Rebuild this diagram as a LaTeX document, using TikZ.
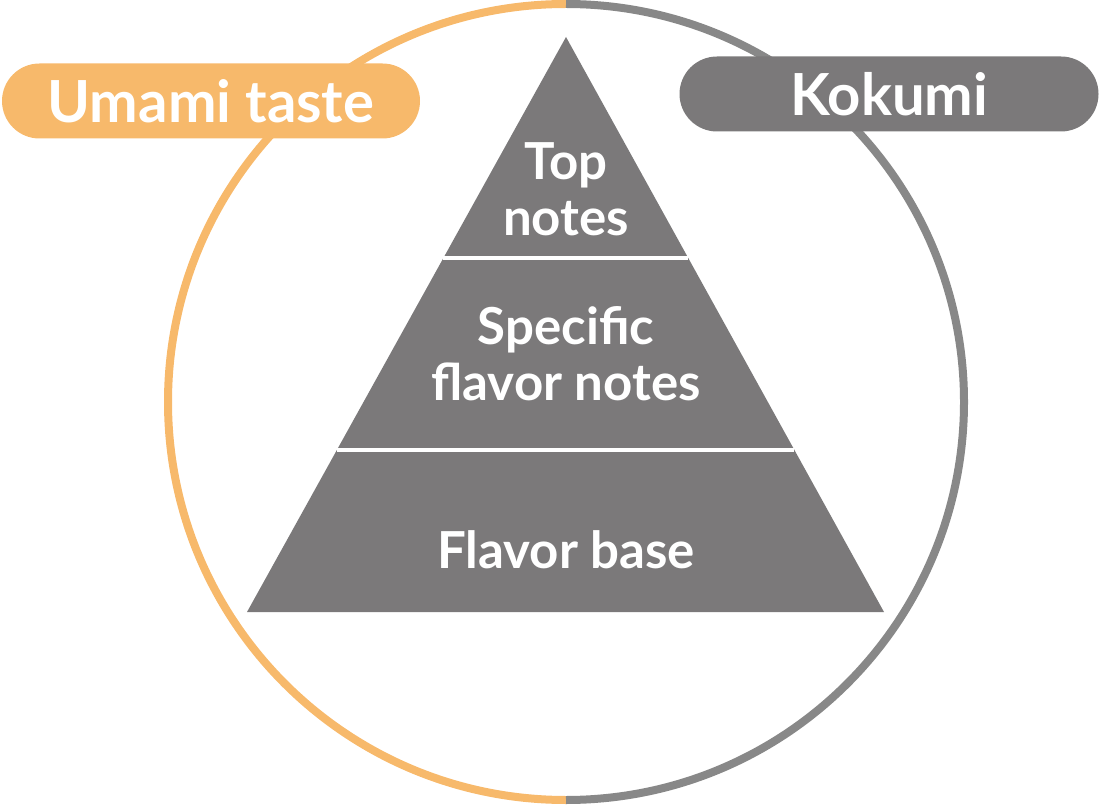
\documentclass[tikz,border=0pt]{standalone}
\usepackage{fontspec}
\setmainfont{Lato}[UprightFont=* Bold]
\usepackage{tikz}
\usetikzlibrary{positioning,calc,shapes.misc}

\definecolor{umami}{HTML}{F7B96B}
\definecolor{ring}{HTML}{888888}
\definecolor{pyr}{HTML}{7B797A}

\begin{document}
\begin{tikzpicture}[x=1pt,y=1pt,
   pill/.style={rounded rectangle,inner sep=0pt,minimum height=75pt,text=white,
                font=\fontsize{58}{64}\selectfont},
   layer/.style={text=white,align=center,font=\fontsize{51}{56}\selectfont}]
   \useasboundingbox (0,0) rectangle (1099,804);
   % outer ring
   \coordinate (c) at (566,402);
   \draw[umami,line width=8pt] (566,800) arc (90:270:398);
   \draw[ring,line width=8pt] (566,800) arc (90:-90:398);
   % pyramid
   \coordinate (apex) at (566,767);
   \coordinate (bl) at (247,192);
   \coordinate (br) at (884,192);
   \fill[pyr] (bl) -- (apex) -- (br) -- cycle;
   \draw[white,line width=4pt] ($(bl)!0.2817!(apex)$) -- ($(br)!0.2817!(apex)$);
   \draw[white,line width=4pt] ($(bl)!0.6157!(apex)$) -- ($(br)!0.6157!(apex)$);
   \node[layer] (top) at (566,615) {Top\\notes};
   \node[layer] (spec) at (566,450) {Specific\\flavor notes};
   \node[layer] (base) at (566,254) {Flavor base};
   % labels
   \node[pill,fill=umami,minimum width=418pt] (umami) at (211,703) {Umami taste};
   \node[pill,fill=pyr,minimum width=419pt] (kokumi) at (889,710) {Kokumi};
\end{tikzpicture}
\end{document}
